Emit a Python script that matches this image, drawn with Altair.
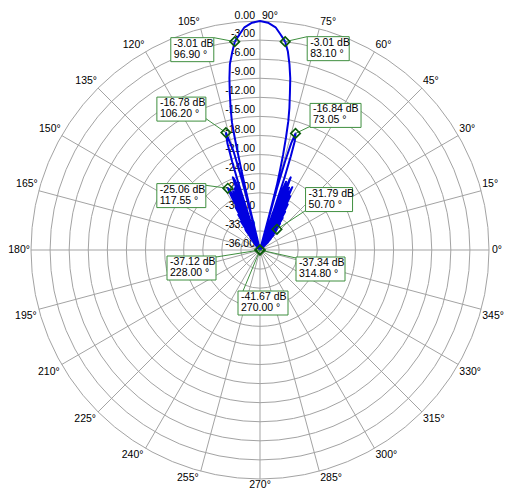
import altair as alt
import pandas as pd

# ---------------- data ----------------
pattern_angle = [0, 10, 20, 30, 36, 40, 43, 44, 44.6, 45.3, 46.0, 46.6, 47.2, 47.8, 48.4, 49.0, 49.6, 50.2, 50.7,
                 51.2, 51.6, 52.2, 52.8, 53.3, 53.7, 54.2, 54.8, 55.3, 55.7, 56.2, 56.8, 57.3, 57.7, 58.2, 58.7,
                 59.2, 59.6, 60.1, 60.7, 61.2, 61.6, 62.1, 62.8, 63.4, 63.8, 64.3, 65.0, 65.5, 65.9, 66.4, 67.1,
                 67.6, 68.0, 68.5, 69.1, 69.6, 70.0, 70.4, 70.8, 71.3, 71.8, 72.3, 73.05, 73.7, 74.2, 74.6, 74.9,
                 75.1, 75.4, 75.9, 76.4, 77.0, 77.6, 78.3, 79.2, 80.0, 81.0, 82.0, 83.1, 84.5, 86.0, 88.0, 90.0,
                 92.0, 94.0, 95.5, 96.9, 98.0, 99.2, 100.1, 100.9, 101.7, 102.4, 102.7, 102.9, 103.1, 103.3, 103.6,
                 103.9, 104.3, 105.0, 106.2, 107.0, 107.5, 107.9, 108.3, 108.6, 109.1, 109.8, 110.5, 111.0, 111.4,
                 111.9, 112.5, 113.1, 113.5, 114.0, 114.6, 115.2, 115.6, 116.2, 116.9, 117.55, 118.1, 118.6, 119.1,
                 119.7, 120.2, 120.6, 121.1, 121.7, 122.2, 122.6, 123.1, 123.7, 124.2, 124.6, 125.2, 125.8, 126.3,
                 126.8, 127.5, 128.2, 128.9, 129.5, 130.3, 131.0, 131.8, 133, 140, 160, 180, 200, 228, 250, 270,
                 290, 314.8, 335, 350, 360]
pattern_db = [-44, -41, -46, -40, -43, -38.5, -36.5, -34.6, -34.2, -38, -33.8, -33.5, -39, -33, -32.8, -40, -32.5, -32, -31.79,
              -33, -40, -31.5, -30.8, -32, -41, -30.5, -29.8, -31, -40, -29.5, -28.8, -30, -41, -28.5, -27.6,
              -29, -40, -27.5, -26.3, -28, -39, -26.5, -24.9, -26.5, -40, -27, -25.2, -27, -38, -25.5, -23.6,
              -25.5, -38, -26, -24.5, -26, -31, -38, -29, -24, -20.5, -18, -16.84, -18.5, -21.5, -26, -37,
              -30, -25.5, -23, -20.5, -17.8, -15.3, -13.2, -10.9, -8.6, -6.4, -4.5, -3.01, -2.0, -0.9, -0.25, 0.0,
              -0.25, -0.9, -2.0, -3.01, -4.6, -6.4, -8.6, -10.9, -13.2, -15.5, -18, -20.5, -23, -25.5, -30,
              -38, -25, -20, -16.78, -18.5, -21.5, -25, -31, -38, -27, -24.3, -23.8, -25.5, -38,
              -26.5, -25.5, -27, -39, -26.5, -25.8, -27.5, -40, -26.5, -25.3, -25.06, -26.5, -39, -28.5,
              -28.3, -30, -41, -29.8, -29.5, -31, -40, -30.8, -30.6, -32, -41, -32, -32.2, -33.5,
              -40, -33.5, -33.6, -35, -41, -34.5, -34.8, -38, -39, -42, -45, -41, -44, -37.12, -43, -41.67,
              -45, -37.34, -42, -46, -44]

ring_db = [0, -3, -6, -9, -12, -15, -18, -21, -24, -27, -30, -33]
label_db = [0, -3, -6, -9, -12, -15, -18, -21, -24, -27, -30, -33, -36]
spoke_angle = list(range(0, 360, 15))

marker_angle = [96.90, 83.10, 106.20, 73.05, 117.55, 50.70, 228.00, 314.80, 270.00]
marker_db = [-3.01, -3.01, -16.78, -16.84, -25.06, -31.79, -37.12, -37.34, -41.67]

# callout layout (pixels, relative to marker)
box_dx = [-64, 22, -69, 14.5, -71, 28.6, -93, 36, -22]
box_dy = [-4, -5, -35.5, -30, -4.7, -41.7, 6, 7, 41]
box_w = [43, 42, 49, 51, 49, 47, 49, 49, 50]
lead_dx = [-21, 22, -20, 14.5, -22, 28.6, -44, 36, -17]
lead_dy = [-4, -5, -14, -7, -3, -18.7, 7, 8, 41]

# ---------------- chart ----------------
RMAX = 36.0
PLOT = 458
K = 2 * RMAX / PLOT  # data units per pixel
PXU = PLOT / (2 * RMAX)  # pixels per data unit
FONT = "Liberation Sans"
FS = 10.5
GRID = "#a3a3a3"
BLUE = "#0000e0"
GREEN = "#3f8f3f"
DKGREEN = "#0b5a0b"

xs = alt.Scale(domain=[-RMAX, RMAX], nice=False, zero=False)
ys = alt.Scale(domain=[-RMAX, RMAX], nice=False, zero=False)

def X(f):
    return alt.X(f, type="quantitative", scale=xs, axis=None)

def Y(f):
    return alt.Y(f, type="quantitative", scale=ys, axis=None)

# rings: circle symbols centred at the origin, size = (2 r_px)^2
rings = alt.Chart(pd.DataFrame({"db": ring_db})).transform_calculate(
    px="0", py="0",
    sz=f"pow(2*(datum.db + 36)*{PXU}, 2)",
).mark_point(shape="circle", filled=False, stroke=GRID, strokeWidth=1, opacity=1).encode(
    x=X("px"), y=Y("py"), size=alt.Size("sz:Q", scale=None)
)

spokes = alt.Chart(pd.DataFrame({"angle": spoke_angle})).transform_calculate(
    x0="0", y0="0",
    x1=f"{RMAX}*cos(datum.angle*PI/180)",
    y1=f"{RMAX}*sin(datum.angle*PI/180)",
).mark_rule(color=GRID, strokeWidth=1).encode(
    x=X("x0"), y=Y("y0"), x2="x1:Q", y2="y1:Q"
)

rad_df = pd.DataFrame({"db": label_db, "txt": [f"{v:.2f}" for v in label_db]})
rad_base = alt.Chart(rad_df).transform_calculate(px="0", py="datum.db + 36")
rad_labels = rad_base.transform_filter("datum.db < 0").mark_text(
    align="right", baseline="bottom", dx=-5, dy=-1, font=FONT, fontSize=FS, color="#000000"
).encode(x=X("px"), y=Y("py"), text="txt:N")
rad_top = rad_base.transform_filter("datum.db == 0").mark_text(
    align="right", baseline="alphabetic", dx=-5, dy=-2, font=FONT, fontSize=FS, color="#000000"
).encode(x=X("px"), y=Y("py"), text="txt:N")

ang_df = pd.DataFrame({"angle": spoke_angle, "txt": [f"{a}°" for a in spoke_angle]})

def ang_layer(flt, align, baseline, dx, dy, fs=FS):
    return alt.Chart(ang_df).transform_filter(flt).transform_calculate(
        px=f"{RMAX}*cos(datum.angle*PI/180)",
        py=f"{RMAX}*sin(datum.angle*PI/180)",
    ).mark_text(align=align, baseline=baseline, dx=dx, dy=dy, font=FONT, fontSize=fs, color="#000000").encode(
        x=X("px"), y=Y("py"), text="txt:N"
    )

ang_layers = [
    ang_layer("datum.angle == 0", "left", "middle", 3, 0),
    ang_layer("datum.angle > 0 && datum.angle < 90", "left", "bottom", 1, -2),
    ang_layer("datum.angle == 90", "left", "alphabetic", 2, -2),
    ang_layer("datum.angle > 90 && datum.angle < 180", "right", "bottom", -1, -2),
    ang_layer("datum.angle == 180", "right", "middle", -1, 0),
    ang_layer("datum.angle > 180 && datum.angle < 270", "right", "top", -2, 2),
    ang_layer("datum.angle == 270", "center", "top", 0, 1),
    ang_layer("datum.angle > 270", "left", "top", 1, 2),
]

pat = alt.Chart(pd.DataFrame({"angle": pattern_angle, "db": pattern_db})).transform_calculate(
    rr="max(datum.db, -36) + 36",
).transform_calculate(
    px="datum.rr*cos(datum.angle*PI/180)",
    py="datum.rr*sin(datum.angle*PI/180)",
).mark_line(color=BLUE, strokeWidth=2, strokeJoin="round").encode(
    x=X("px"), y=Y("py"), order="angle:Q"
)

ann_df = pd.DataFrame({
    "angle": marker_angle, "db": marker_db,
    "bdx": box_dx, "bdy": box_dy, "bw": box_w, "ldx": lead_dx, "ldy": lead_dy,
    "t1": [f"{v:.2f} dB" for v in marker_db],
    "t2": [f"{a:.2f} °" for a in marker_angle],
})
ann = alt.Chart(ann_df).transform_calculate(
    rr="max(datum.db, -36) + 36",
).transform_calculate(
    mx="datum.rr*cos(datum.angle*PI/180)",
    my="datum.rr*sin(datum.angle*PI/180)",
).transform_calculate(
    bx0=f"datum.mx + datum.bdx*{K}",
    bx1=f"datum.mx + (datum.bdx + datum.bw)*{K}",
    by0=f"datum.my - datum.bdy*{K}",
    by1=f"datum.my - (datum.bdy + 24)*{K}",
    lx=f"datum.mx + datum.ldx*{K}",
    ly=f"datum.my - datum.ldy*{K}",
    tx=f"datum.mx + (datum.bdx + 3)*{K}",
    ty1=f"datum.my - (datum.bdy + 1)*{K}",
    ty2=f"datum.my - (datum.bdy + 12)*{K}",
)

leaders = ann.mark_rule(color=GREEN, strokeWidth=1).encode(x=X("mx"), y=Y("my"), x2="lx:Q", y2="ly:Q")
boxes = ann.mark_rect(fill="#ffffff", stroke=GREEN, strokeWidth=1).encode(x=X("bx0"), x2="bx1:Q", y=Y("by0"), y2="by1:Q")
txt1 = ann.mark_text(align="left", baseline="top", font=FONT, fontSize=FS, color="#000000").encode(x=X("tx"), y=Y("ty1"), text="t1:N")
txt2 = ann.mark_text(align="left", baseline="top", font=FONT, fontSize=FS, color="#000000").encode(x=X("tx"), y=Y("ty2"), text="t2:N")
markers = ann.mark_point(shape="diamond", size=90, filled=False, stroke=DKGREEN, strokeWidth=1.6, opacity=1).encode(x=X("mx"), y=Y("my"))

chart = alt.layer(
    rings, spokes, rad_labels, rad_top, *ang_layers, pat, leaders, boxes, txt1, txt2, markers
).properties(
    width=PLOT, height=PLOT,
    padding={"left": 23, "top": 13, "right": 15, "bottom": 13},
    autosize="none",
).configure_view(stroke=None)

chart.save("out.html", embed_options={"renderer": "svg", "actions": False})
